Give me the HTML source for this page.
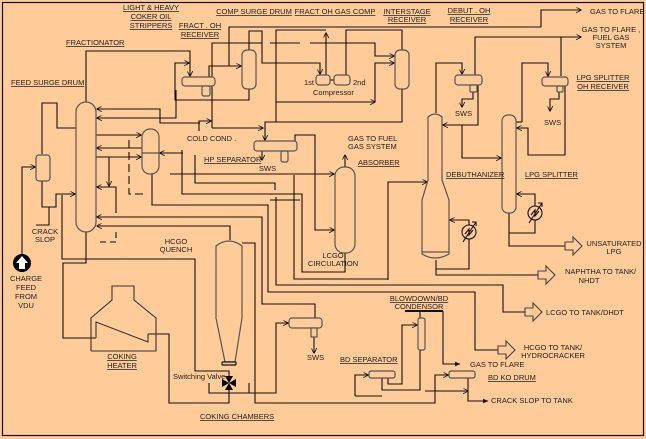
<!DOCTYPE html>
<html><head><meta charset="utf-8"><style>
html,body{margin:0;padding:0;background:#FFCC99;}
svg{display:block;font-family:"Liberation Sans",sans-serif;}
text{font-size:7.5px;fill:#222;}
.u{text-decoration:underline;}
</style></head><body>
<svg width="646" height="439" viewBox="0 0 646 439" xmlns="http://www.w3.org/2000/svg">
<defs>
<marker id="a" viewBox="0 0 10 10" refX="9" refY="5" markerWidth="5" markerHeight="5" orient="auto"><path d="M0,0 L10,5 L0,10" fill="none" stroke="#111" stroke-width="1.5"/></marker>
<marker id="f" viewBox="0 0 10 10" refX="9" refY="5" markerWidth="5" markerHeight="5" orient="auto"><path d="M0,1 L10,5 L0,9z" fill="#111"/></marker>
</defs>
<rect x="0" y="0" width="646" height="439" fill="#FFCC99"/>
<rect x="2.5" y="2.5" width="641" height="433" fill="none" stroke="#111" stroke-width="1.2"/>

<g fill="none" stroke="#111" stroke-width="1.1">
<polyline points="229,66 229,27 541,27 541,10 581,10" marker-end="url(#a)"/>
<polyline points="86,103 86,51 190,51 190,76" marker-end="url(#a)"/>
<polyline points="249,89 249,100 175,100 175,63 189,63" marker-end="url(#a)"/>
<polyline points="209,77 209,66 241,66" marker-end="url(#a)"/>
<polyline points="212,128 212,43 262,43"/>
<polyline points="270,43 300,43"/><polyline points="310,43 375,43 375,56 394,56" marker-end="url(#a)"/>
<polyline points="249,50 249,31 262,31 262,63 320,63 320,74" marker-end="url(#a)"/>
<polyline points="276,122 276,30 326,30"/>
<polyline points="326,75 326,33" marker-end="url(#a)"/>
<polyline points="346,75 346,30 402,30 402,50"/>
<polyline points="330,80 334,80"/>
<polyline points="276,102 375,102" marker-end="url(#a)"/>
<polyline points="375,102 375,63 394,63" marker-end="url(#a)"/>
<polyline points="402,89 402,122 265,122 265,140" marker-end="url(#a)"/>
<polyline points="212,128 263,128" marker-end="url(#a)"/>
<polyline points="199,131 199,121 211,121" marker-end="url(#a)"/>
<polyline points="295,141 295,135 315,135 315,230 334,230" marker-end="url(#a)"/>
<polyline points="262,151 262,160" marker-end="url(#a)"/>
<polyline points="436,113 436,63 462,63 462,74" marker-end="url(#a)"/>
<polyline points="475,75 475,37 581,37" marker-end="url(#a)"/>
<polyline points="561,37 561,76" />
<polyline points="478,85 478,125 443,125" marker-end="url(#a)"/>
<polyline points="462,125 462,158 501,158" marker-end="url(#a)"/>
<polyline points="473,92 473,99 462,99 462,107" marker-end="url(#a)"/>
<polyline points="522,122 522,63 548,63 548,76" marker-end="url(#a)"/>
<polyline points="516,122 522,122"/>
<polyline points="565,86 565,155 528,155 528,128 517,128" marker-end="url(#a)"/>
<polyline points="559,86 559,99 550,99 550,111" marker-end="url(#a)"/>
<polyline points="535,206 535,194 517,194" marker-end="url(#a)"/>
<polyline points="535,220 535,233 509,233"/>
<polyline points="509,213 509,246 565,246"/>
<polyline points="469,225 469,220 450,220" marker-end="url(#a)"/>
<polyline points="469,239 469,269 436,269"/>
<polyline points="436,260 436,275 538,275"/>
<polyline points="388,280 388,182 427,182" marker-end="url(#a)"/>
<polyline points="345,167 345,155" marker-end="url(#a)"/>
<polyline points="182,150 182,194 302,194 302,272 345,272 345,253"/>
<polyline points="195,155 195,183 275,183 275,190"/>
<polyline points="170,174 334,174" marker-end="url(#a)"/>
<polyline points="294,175 294,279 388,279"/>
<polyline points="276,197 276,285 503,285 503,312 525,312"/>
<polyline points="200,205 268,205 268,292 475,292 475,350 498,350"/>
<polyline points="200,217 262,217 262,304 315,304 315,318"/>
<polyline points="270,200 300,200"/>
<polyline points="42,154 42,103 57,103 57,128 76,128"/>
<polyline points="42,181 42,207 56,207 56,194 75,194" marker-end="url(#a)"/>
<polyline points="62,195 62,259 195,259 195,371 229,371 229,378"/>
<polyline points="49,207 49,225 36,225"/>
<polyline points="22,254 22,167 35,167" marker-end="url(#a)"/>
<polyline points="200,123 160,123 160,109 97,109" marker-end="url(#a)"/>
<polyline points="176,90 176,118 97,118" marker-end="url(#a)"/>
<polyline points="96,135 141,135" marker-end="url(#a)"/>
<polyline points="142,148 97,148" marker-end="url(#a)"/>
<polyline points="96,157 141,157" marker-end="url(#a)"/>
<polyline points="109,157 109,186" marker-end="url(#a)"/>
<polyline points="116,213 116,187 97,187" marker-end="url(#a)"/>
<polyline points="129,140 129,194 147,194" stroke-dasharray="8,4"/>
<polyline points="152,174 152,205 200,205"/>
<polyline points="183,153 160,153" marker-end="url(#a)"/>
<polyline points="200,217 97,217" marker-end="url(#a)"/>
<polyline points="116,232 116,242 100,242" stroke-dasharray="6,4"/>
<polyline points="230,240 230,226 97,226" marker-end="url(#a)"/>
<polyline points="86,232 86,263 63,263 63,338 96,338"/>
<polyline points="148,334 169,334 169,403 229,403 229,390"/>
<polyline points="242,243 255,243 255,403 435,403 435,375 448,375" marker-end="url(#a)"/>
<polyline points="209,383 209,393 249,393 249,383"/>
<polyline points="249,393 276,393 276,323 288,323" marker-end="url(#a)"/>
<polyline points="314,337 314,345 314,353" marker-end="url(#a)"/>
<polyline points="355,396 355,375 368,375" marker-end="url(#a)"/>
<polyline points="355,396 382,396"/>
<polyline points="388,378 388,384 402,384 402,325 417,325" marker-end="url(#a)"/>
<polyline points="382,378 382,390 420,390 420,350"/>
<polyline points="425,391 468,391" marker-end="url(#a)"/>
<polyline points="443,311 443,364 460,364" marker-end="url(#f)"/>
<polyline points="468,378 468,401 488,401" marker-end="url(#f)"/>
<polyline points="420,318 420,311"/>
</g>
<line x1="405" y1="311" x2="443" y2="311" stroke="#111" stroke-width="2"/>

<g fill="#FFCC99" stroke="#555" stroke-width="1.2">
<rect x="76" y="102" width="20" height="130" rx="10"/>
<rect x="36" y="155" width="14" height="26" rx="3"/>
<rect x="142" y="129" width="17" height="45" rx="8"/>
<line x1="142" y1="153" x2="159" y2="153"/>
<rect x="182" y="77" width="33" height="9" rx="3"/>
<rect x="202" y="86" width="8" height="10" rx="2"/>
<rect x="242" y="50" width="14" height="39" rx="5"/>
<rect x="316" y="75" width="14" height="10" rx="3"/>
<rect x="334" y="75" width="16" height="10" rx="3"/>
<rect x="395" y="50" width="14" height="39" rx="5"/>
<rect x="254" y="141" width="43" height="10" rx="3"/>
<rect x="281" y="151" width="7" height="11" rx="2"/>
<rect x="455" y="75" width="27" height="10" rx="3"/>
<rect x="470" y="85" width="7" height="7" rx="1"/>
<rect x="542" y="77" width="26" height="9" rx="3"/>
<rect x="557" y="86" width="6" height="6" rx="1"/>
<rect x="335" y="167" width="20" height="86" rx="9"/>
<rect x="502" y="115" width="14" height="98" rx="6"/>
<path d="M428,117 Q435,111 442,117 L442,180 L449,200 L449,254 Q435,262 422,254 L422,200 L428,180 Z"/>
<line x1="422" y1="252" x2="449" y2="252"/>
<path d="M216,246 Q229,236 242,246 L242,318 L235,362 L225,362 L216,318 Z"/>
<rect x="222" y="362" width="14" height="3" rx="1" stroke="#111"/>
<rect x="289" y="318" width="33" height="10" rx="3"/>
<rect x="311" y="328" width="6" height="9"/>
<rect x="369" y="371" width="26" height="7" rx="2"/>
<rect x="449" y="371" width="26" height="7" rx="2"/>
<rect x="418" y="318" width="7" height="32" rx="2"/>
</g>
<g fill="none" stroke="#333" stroke-width="1.1">
<polyline points="91,351 91,318 112,300 112,286 134,286 134,300 156,318 156,351 91,351"/>
<polyline points="96,338 96,322 148,342 148,334"/>
</g>
<g fill="none" stroke="#111" stroke-width="1.1">
<circle cx="469" cy="232" r="7"/><path d="M463,242 L476,222 M472,222 L476,222 L476,226 M465,234 L469,229 L469,235 L473,230"/>
<circle cx="535" cy="213" r="7"/><path d="M529,223 L542,203 M538,203 L542,203 L542,207 M531,215 L535,210 L535,216 L539,211"/>
</g>
<g fill="#FFCC99" stroke="#444" stroke-width="1.1">
<path d="M565,242 L573,242 L573,237 L582,246 L573,255 L573,250 L565,250 Z"/>
<path d="M538,271 L546,271 L546,266 L555,275 L546,284 L546,279 L538,279 Z"/>
<path d="M525,308 L533,308 L533,303 L542,312 L533,321 L533,316 L525,316 Z"/>
<path d="M498,346 L506,346 L506,341 L515,350 L506,359 L506,354 L498,354 Z"/>
</g>
<circle cx="22" cy="263" r="9" fill="#000"/>
<path d="M22,256 L28,263 L25,263 L25,269 L19,269 L19,263 L16,263 Z" fill="#fff"/>
<g fill="#000">
<path d="M229,383 L222,379 L222,387 Z"/><path d="M229,383 L236,379 L236,387 Z"/>
<path d="M229,383 L225,376 L233,376 Z"/><path d="M229,383 L225,390 L233,390 Z"/>
</g>

<g>
<text x="151" y="10" text-anchor="middle" class="u">LIGHT &amp; HEAVY</text>
<text x="151" y="19" text-anchor="middle" class="u">COKER OIL</text>
<text x="151" y="28" text-anchor="middle" class="u">STRIPPERS</text>
<text x="200" y="28" text-anchor="middle" class="u">FRACT . OH</text>
<text x="200" y="37" text-anchor="middle" class="u">RECEIVER</text>
<text x="254" y="14" text-anchor="middle" class="u">COMP SURGE DRUM</text>
<text x="335" y="14" text-anchor="middle" class="u">FRACT OH GAS COMP</text>
<text x="407" y="14" text-anchor="middle" class="u">INTERSTAGE</text>
<text x="407" y="22" text-anchor="middle" class="u">RECEIVER</text>
<text x="469" y="13" text-anchor="middle" class="u">DEBUT . OH</text>
<text x="469" y="22" text-anchor="middle" class="u">RECEIVER</text>
<text x="590" y="14">GAS TO FLARE</text>
<text x="611" y="32" text-anchor="middle">GAS TO FLARE ,</text>
<text x="611" y="40" text-anchor="middle">FUEL GAS</text>
<text x="611" y="48" text-anchor="middle">SYSTEM</text>
<text x="66" y="45" class="u">FRACTIONATOR</text>
<text x="11" y="85" class="u">FEED SURGE DRUM</text>
<text x="304" y="85">1st</text>
<text x="353" y="85">2nd</text>
<text x="313" y="95">Compressor</text>
<text x="603" y="80" text-anchor="middle" class="u">LPG SPLITTER</text>
<text x="603" y="89" text-anchor="middle" class="u">OH RECEIVER</text>
<text x="455" y="116">SWS</text>
<text x="544" y="125">SWS</text>
<text x="259" y="171">SWS</text>
<text x="187" y="141">COLD COND .</text>
<text x="204" y="162" class="u">HP SEPARATOR</text>
<text x="348" y="141">GAS TO FUEL</text>
<text x="348" y="149">GAS SYSTEM</text>
<text x="358" y="165" class="u">ABSORBER</text>
<text x="446" y="177" class="u">DEBUTHANIZER</text>
<text x="525" y="177" class="u">LPG SPLITTER</text>
<text x="45" y="234" text-anchor="middle">CRACK</text>
<text x="45" y="242" text-anchor="middle">SLOP</text>
<text x="176" y="244" text-anchor="middle">HCGO</text>
<text x="176" y="252" text-anchor="middle">QUENCH</text>
<text x="333" y="258" text-anchor="middle">LCGO</text>
<text x="333" y="266" text-anchor="middle">CIRCULATION</text>
<text x="26" y="281" text-anchor="middle">CHARGE</text>
<text x="26" y="290" text-anchor="middle">FEED</text>
<text x="26" y="299" text-anchor="middle">FROM</text>
<text x="26" y="308" text-anchor="middle">VDU</text>
<text x="614" y="246" text-anchor="middle">UNSATURATED</text>
<text x="614" y="254" text-anchor="middle">LPG</text>
<text x="565" y="274">NAPHTHA TO TANK/</text>
<text x="589" y="283" text-anchor="middle">NHDT</text>
<text x="546" y="315">LCGO TO TANK/DHDT</text>
<text x="419" y="301" text-anchor="middle" class="u">BLOWDOWN/BD</text>
<text x="419" y="309" text-anchor="middle">CONDENSOR</text>
<text x="122" y="359" text-anchor="middle" class="u">COKING</text>
<text x="122" y="368" text-anchor="middle" class="u">HEATER</text>
<text x="307" y="360">SWS</text>
<text x="553" y="350" text-anchor="middle">HCGO TO TANK/</text>
<text x="553" y="358" text-anchor="middle">HYDROCRACKER</text>
<text x="340" y="362" class="u">BD SEPARATOR</text>
<text x="470" y="367">GAS TO FLARE</text>
<text x="488" y="380" class="u">BD KO DRUM</text>
<text x="173" y="379">Switching Valve</text>
<text x="491" y="403">CRACK SLOP TO TANK</text>
<text x="200" y="419" class="u">COKING CHAMBERS</text>
</g>
</svg>
</body></html>
